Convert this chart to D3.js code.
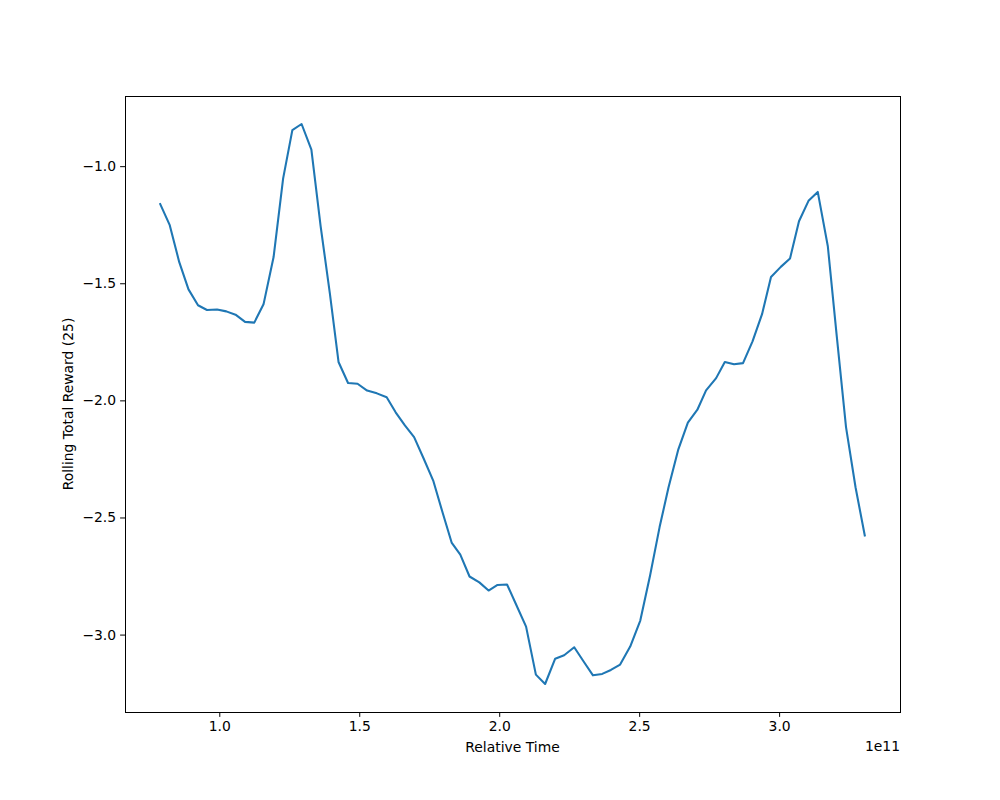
<!DOCTYPE html>
<html lang="en">
<head>
    <meta charset="UTF-8">
    <title>Rolling Total Reward</title>
    <script src="https://cdn.jsdelivr.net/npm/d3@7"></script>
    <style>
        body { margin: 0; background: #fff; }
        text { font-family: "DejaVu Sans", sans-serif; fill: #000; }
    </style>
</head>
<body>
<svg width="1000" height="800"></svg>
<script>
// relative time (units of 1e11) and rolling total reward (window 25)
var timeE11 = [0.789, 0.823, 0.857, 0.890, 0.924, 0.956, 0.992, 1.025, 1.058, 1.092,
    1.125, 1.158, 1.194, 1.228, 1.261, 1.294, 1.329, 1.362, 1.395, 1.426,
    1.460, 1.494, 1.528, 1.563, 1.598, 1.630, 1.663, 1.696, 1.730, 1.765,
    1.798, 1.830, 1.861, 1.894, 1.929, 1.962, 1.994, 2.028, 2.062, 2.096,
    2.131, 2.164, 2.200, 2.232, 2.268, 2.301, 2.335, 2.368, 2.399, 2.432,
    2.468, 2.504, 2.539, 2.573, 2.605, 2.640, 2.674, 2.708, 2.739, 2.775,
    2.806, 2.839, 2.871, 2.905, 2.939, 2.971, 3.006, 3.039, 3.071, 3.105,
    3.138, 3.174, 3.206, 3.239, 3.273, 3.306];
var reward = [-1.162, -1.252, -1.410, -1.526, -1.594, -1.614, -1.612, -1.620, -1.634, -1.665,
    -1.668, -1.590, -1.388, -1.053, -0.846, -0.820, -0.929, -1.256, -1.543, -1.836,
    -1.926, -1.929, -1.958, -1.970, -1.987, -2.051, -2.107, -2.157, -2.248, -2.345,
    -2.480, -2.607, -2.659, -2.752, -2.777, -2.812, -2.788, -2.786, -2.876, -2.966,
    -3.171, -3.211, -3.103, -3.088, -3.054, -3.114, -3.174, -3.168, -3.151, -3.128,
    -3.051, -2.940, -2.748, -2.541, -2.371, -2.209, -2.095, -2.040, -1.957, -1.905,
    -1.836, -1.846, -1.841, -1.748, -1.632, -1.473, -1.430, -1.394, -1.235, -1.148,
    -1.110, -1.342, -1.727, -2.114, -2.371, -2.577];
var xTicks = [1.0, 1.5, 2.0, 2.5, 3.0];
var yTicks = [-1.0, -1.5, -2.0, -2.5, -3.0];

var data = timeE11.map(function(t, i) { return { t: t * 1e11, r: reward[i] }; });

var margin = { left: 125, right: 100, top: 96, bottom: 88 };
var W = 1000, H = 800;
var iw = W - margin.left - margin.right, ih = H - margin.top - margin.bottom;

// matplotlib-like 5% margins
function padded(ext) {
    var d = ext[1] - ext[0];
    return [ext[0] - 0.05 * d, ext[1] + 0.05 * d];
}

var x = d3.scaleLinear().domain(padded(d3.extent(data, function(d) { return d.t; }))).range([0, iw]);
var y = d3.scaleLinear().domain(padded(d3.extent(data, function(d) { return d.r; }))).range([ih, 0]);

var svg = d3.select('svg');
var g = svg.append('g').attr('transform', 'translate(' + margin.left + ',' + margin.top + ')');

var minus = function(v) { return d3.format('.1f')(v).replace('-', '\u2212'); };

var xAxis = g.append('g')
    .attr('transform', 'translate(0,' + ih + ')')
    .call(d3.axisBottom(x)
        .tickValues(xTicks.map(function(v) { return v * 1e11; }))
        .tickSize(4.9).tickPadding(4)
        .tickFormat(function(v) { return d3.format('.1f')(v / 1e11); }));

var yAxis = g.append('g')
    .call(d3.axisLeft(y)
        .tickValues(yTicks)
        .tickSize(4.9).tickPadding(4)
        .tickFormat(minus));

[xAxis, yAxis].forEach(function(a) {
    a.select('.domain').remove();
    a.selectAll('line').attr('stroke', '#000').attr('stroke-width', 1);
    a.selectAll('text').style('font-family', '"DejaVu Sans", sans-serif')
        .style('font-size', '13.9px').attr('fill', '#000');
});

g.append('path')
    .datum(data)
    .attr('fill', 'none')
    .attr('stroke', '#1f77b4')
    .attr('stroke-width', 2.08)
    .attr('stroke-linejoin', 'round')
    .attr('stroke-linecap', 'square')
    .attr('d', d3.line().x(function(d) { return x(d.t); }).y(function(d) { return y(d.r); }));

// frame
g.append('rect')
    .attr('x', 0.5).attr('y', 0.5)
    .attr('width', iw).attr('height', ih)
    .attr('fill', 'none').attr('stroke', '#000').attr('stroke-width', 1)
    .attr('shape-rendering', 'crispEdges');

// axis labels
g.append('text')
    .attr('x', iw / 2).attr('y', ih + 40)
    .attr('text-anchor', 'middle')
    .style('font-size', '13.9px')
    .text('Relative Time');

g.append('text')
    .attr('transform', 'translate(' + (-52) + ',' + (ih / 2) + ') rotate(-90)')
    .attr('text-anchor', 'middle')
    .style('font-size', '13.9px')
    .text('Rolling Total Reward (25)');

// offset text
g.append('text')
    .attr('x', iw).attr('y', ih + 39)
    .attr('text-anchor', 'end')
    .style('font-size', '13.9px')
    .text('1e11');
</script>
</body>
</html>
